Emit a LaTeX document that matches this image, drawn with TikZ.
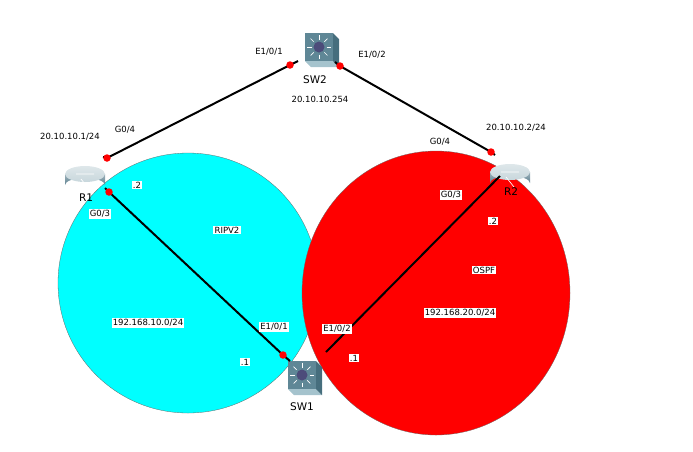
\documentclass[tikz,border=0pt]{standalone}
\usepackage{fontspec}
\setmainfont{DejaVu Sans}
\definecolor{aqua}{RGB}{0,255,255}
\definecolor{rtop}{RGB}{200,215,220}
\definecolor{rside}{RGB}{95,130,145}
\definecolor{swfront}{RGB}{95,135,150}
\definecolor{swtop}{RGB}{165,195,205}
\definecolor{swside}{RGB}{70,110,125}
\begin{document}
\begin{tikzpicture}[x=1pt,y=-1pt,
 lbl/.style={fill=white,inner sep=1.2pt,font=\fontsize{8.5}{9}\selectfont},
 nm/.style={inner sep=1pt,font=\fontsize{10.5}{11}\selectfont},
 link/.style={line width=2pt,black},
 dot/.style={circle,fill=red,inner sep=0pt,minimum size=7.5pt},
 router/.style={minimum width=40pt,minimum height=26pt,inner sep=0pt},
 switch/.style={minimum size=34pt,inner sep=0pt}]
\useasboundingbox (0,0) rectangle (693,451);
\fill[aqua] (188,283) circle (130);
\draw[black!60,line width=0.3pt] (188,283) circle (130);
\fill[red] (436,293) ellipse (134 and 142);
\draw[black!60,line width=0.3pt] (436,293) ellipse (134 and 142);
% devices
\node[router] (R1) at (85,170) {};
\node[router] (R2) at (510,168) {};
\node[switch] (SW2) at (322,50) {};
\node[switch] (SW1) at (305,378) {};
\foreach \r in {R1,R2}{
 \shade[top color=rside!60,bottom color=rside] ([xshift=-20pt,yshift=-4pt]\r.center) -- ++(0,11) arc[start angle=180,end angle=360,x radius=20,y radius=7] -- ++(0,-11) -- cycle;
 \shade[top color=rtop!60,bottom color=rtop] ([yshift=-4pt]\r.center) ellipse (20 and 8);
 \draw[white,line width=0.7pt] ([xshift=-9pt,yshift=-4pt]\r.center) -- ++(18,0) ([xshift=-4pt,yshift=-9pt]\r.center) -- ++(8,10);
}
\foreach \s in {SW1,SW2}{
 \fill[swfront] ([xshift=-17pt,yshift=-11pt]\s.center) rectangle ([xshift=11pt,yshift=17pt]\s.center);
 \fill[swtop] ([xshift=-17pt,yshift=-11pt]\s.center) -- ([xshift=-11pt,yshift=-17pt]\s.center) -- ([xshift=17pt,yshift=-17pt]\s.center) -- ([xshift=11pt,yshift=-11pt]\s.center) -- cycle;
 \fill[swside] ([xshift=11pt,yshift=-11pt]\s.center) -- ([xshift=17pt,yshift=-17pt]\s.center) -- ([xshift=17pt,yshift=11pt]\s.center) -- ([xshift=11pt,yshift=17pt]\s.center) -- cycle;
 \fill[black!55!blue!40!gray] ([xshift=-3pt,yshift=3pt]\s.center) circle (5.5);
 \foreach \a in {0,45,...,315} \draw[white,line width=0.7pt] ([xshift=-3pt,yshift=3pt]\s.center) ++(\a:7.5) -- ++(\a:4.5);
}
% links
\coordinate (d1) at (107,158); \coordinate (d2) at (290,65);
\coordinate (d3) at (340,66); \coordinate (d4) at (491,152);
\coordinate (d5) at (109,192); \coordinate (d6) at (283,355);
\coordinate (e1) at (326,352); \coordinate (e2) at (500,176);
\draw[link] (R1) ++(18,-13) -- (d1) -- (d2) -- ++(8,-4);
\draw[link] (d3) ++(-5,-4) -- (d3) -- (d4) -- ++(4,3);
\draw[link] (d5) ++(-4,-4) -- (d5) -- (d6) -- ++(7,6);
\draw[link] (e1) -- (e2);
\foreach \d in {d1,d2,d3,d4,d5,d6} \node[dot] at (\d) {};
% labels
\node[lbl] at (269,52) {E1/0/1};
\node[lbl] at (372,55) {E1/0/2};
\node[nm] at (315,80) {SW2};
\node[lbl] at (320,99) {20.10.10.254};
\node[lbl] at (70,137) {20.10.10.1/24};
\node[lbl] at (125,130) {G0/4};
\node[nm] at (86,198) {R1};
\node[lbl] at (137,185) {.2};
\node[lbl] at (100,214) {G0/3};
\node[lbl] at (227,230) {RIPV2};
\node[lbl] at (148,323) {192.168.10.0/24};
\node[lbl] at (274,327) {E1/0/1};
\node[lbl] at (245,362) {.1};
\node[nm] at (302,407) {SW1};
\node[lbl] at (337,329) {E1/0/2};
\node[lbl] at (354,358) {.1};
\node[lbl] at (460,313) {192.168.20.0/24};
\node[lbl] at (484,270) {OSPF};
\node[lbl] at (493,221) {.2};
\node[lbl] at (451,195) {G0/3};
\node[lbl] at (440,142) {G0/4};
\node[lbl] at (516,128) {20.10.10.2/24};
\node[nm] at (511,192) {R2};
\end{tikzpicture}
\end{document}
